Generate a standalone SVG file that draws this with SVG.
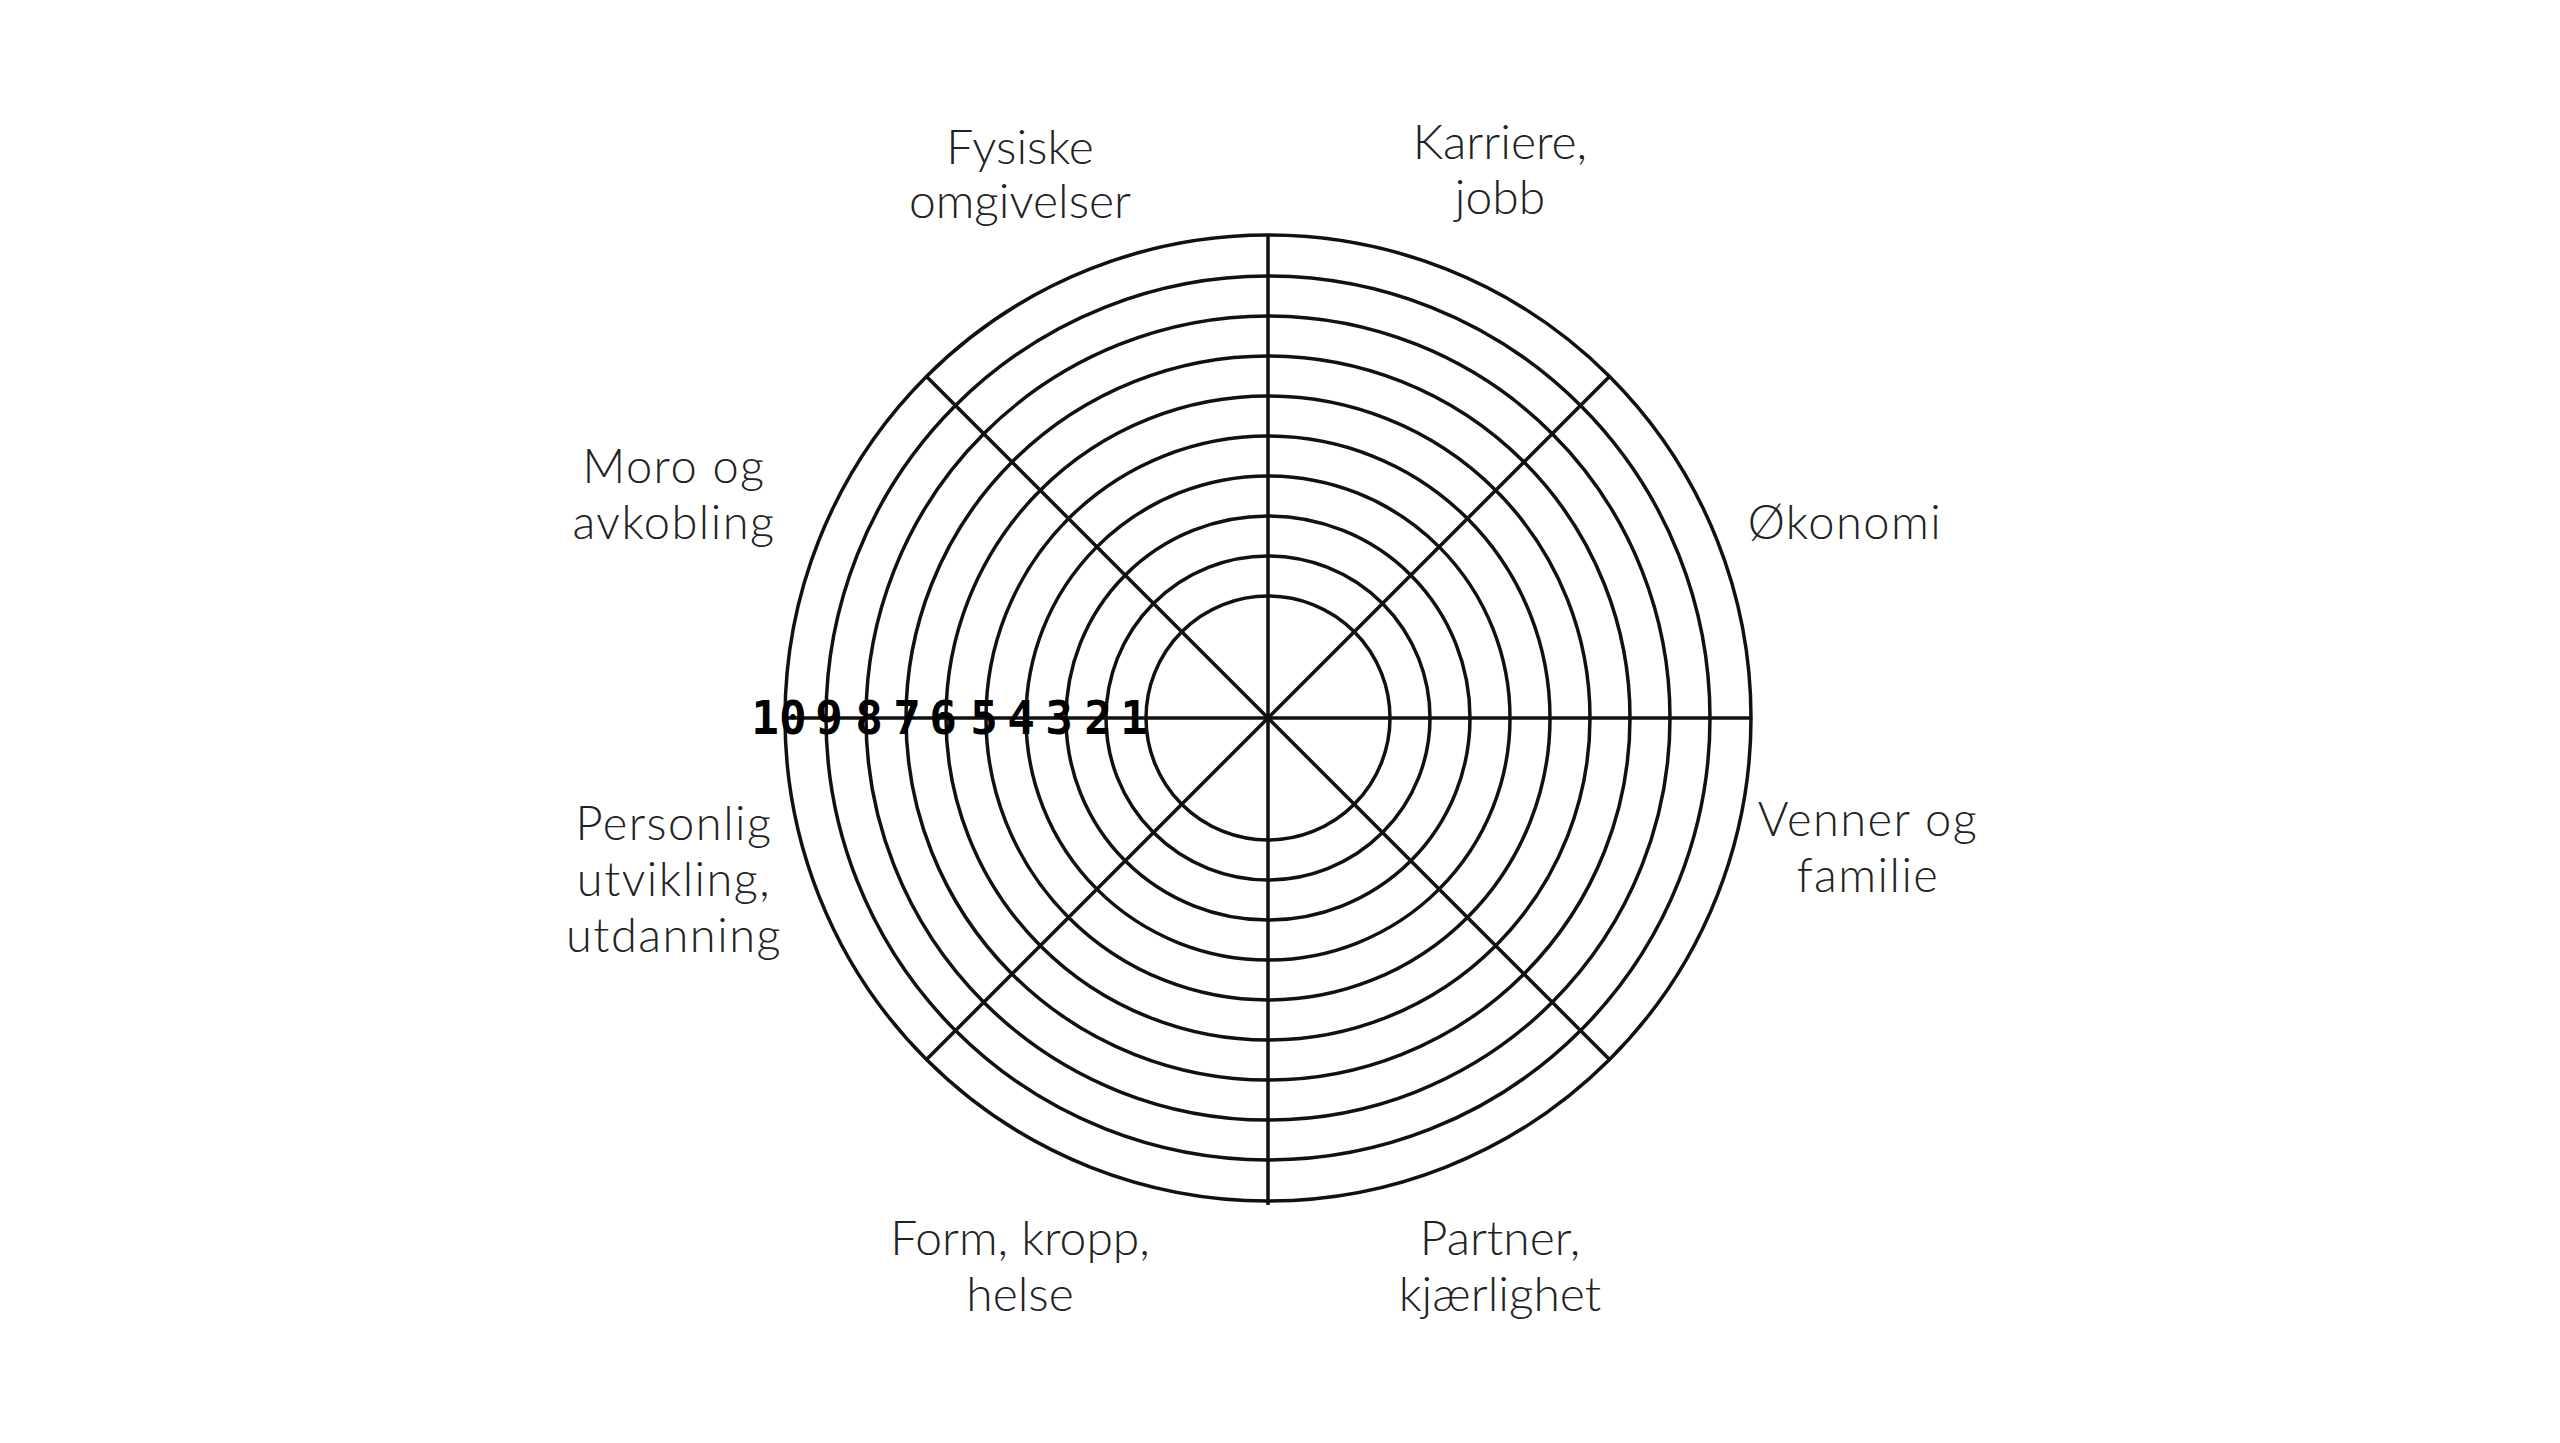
<svg xmlns="http://www.w3.org/2000/svg" width="2560" height="1443" viewBox="0 0 2560 1443">
<style>
.ring{fill:none;stroke:#111;stroke-width:3.5}
.spoke{stroke:#111;stroke-width:3.5;stroke-linecap:butt}
.lbl{font-family:Lato,"Open Sans","Liberation Sans",sans-serif;font-weight:300;font-size:48px;fill:#222;text-anchor:middle}
.side{font-size:47px;letter-spacing:1.5px}
.num{font-family:"DejaVu Sans Mono","Liberation Mono",monospace;font-weight:bold;font-size:46px;fill:#000;text-anchor:middle}
</style>
<rect width="2560" height="1443" fill="#fff"/>
<g id="rings">
<circle class="ring" cx="1268" cy="718" r="122"/>
<circle class="ring" cx="1268" cy="718" r="162"/>
<circle class="ring" cx="1268" cy="718" r="202"/>
<circle class="ring" cx="1268" cy="718" r="242"/>
<circle class="ring" cx="1268" cy="718" r="282"/>
<circle class="ring" cx="1268" cy="718" r="322"/>
<circle class="ring" cx="1268" cy="718" r="362"/>
<circle class="ring" cx="1268" cy="718" r="402"/>
<circle class="ring" cx="1268" cy="718" r="442"/>
<circle class="ring" cx="1268" cy="718" r="483"/>
</g>
<g id="connectors">
<line class="spoke" x1="1268" y1="235" x2="1268" y2="1205"/>
<line class="spoke" x1="785" y1="718" x2="1751" y2="718"/>
<line class="spoke" x1="926.5" y1="376.5" x2="1609.5" y2="1059.5"/>
<line class="spoke" x1="1609.5" y1="376.5" x2="926.5" y2="1059.5"/>
</g>
<g id="scale">
<text class="num" x="779" y="734">10</text>
<text class="num" x="829" y="734">9</text>
<text class="num" x="869" y="734">8</text>
<text class="num" x="907" y="734">7</text>
<text class="num" x="943" y="734">6</text>
<text class="num" x="984" y="734">5</text>
<text class="num" x="1021" y="734">4</text>
<text class="num" x="1059" y="734">3</text>
<text class="num" x="1098" y="734">2</text>
<text class="num" x="1134" y="734">1</text>
</g>
<g id="fysiske-omgivelser">
<text class="lbl" x="1020" y="164">Fysiske</text>
<text class="lbl" x="1020" y="218">omgivelser</text>
</g>
<g id="karriere-jobb">
<text class="lbl" x="1500" y="159">Karriere,</text>
<text class="lbl" x="1500" y="214">jobb</text>
</g>
<g id="okonomi">
<text class="lbl side" x="1845" y="539">Økonomi</text>
</g>
<g id="venner-familie">
<text class="lbl side" x="1868" y="836">Venner og</text>
<text class="lbl side" x="1868" y="892">familie</text>
</g>
<g id="partner-kjaerlighet">
<text class="lbl" x="1500" y="1255">Partner,</text>
<text class="lbl" x="1500" y="1311">kjærlighet</text>
</g>
<g id="form-kropp-helse">
<text class="lbl" x="1020" y="1255">Form, kropp,</text>
<text class="lbl" x="1020" y="1311">helse</text>
</g>
<g id="personlig-utvikling">
<text class="lbl side" x="674" y="840">Personlig</text>
<text class="lbl side" x="674" y="896">utvikling,</text>
<text class="lbl side" x="674" y="952">utdanning</text>
</g>
<g id="moro-avkobling">
<text class="lbl side" x="674" y="483">Moro og</text>
<text class="lbl side" x="674" y="539">avkobling</text>
</g>
</svg>
